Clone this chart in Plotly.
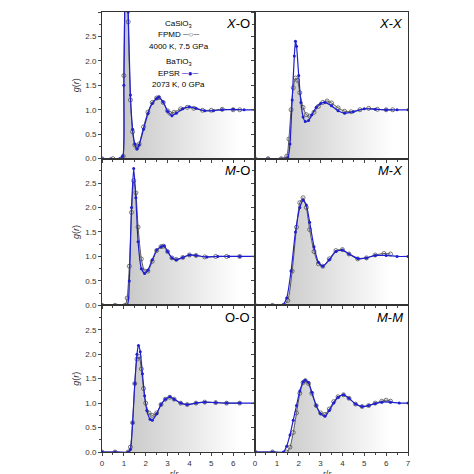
import plotly.graph_objects as go
from plotly.subplots import make_subplots

# (r, g) pairs, per panel: FPMD (grey) and EPSR (blue)
xo_r_f = [0, 0.5, 0.9, 0.97, 1.0, 1.05, 1.1, 1.2, 1.3, 1.4, 1.5, 1.6, 1.7, 1.9, 2.1, 2.3, 2.5, 2.6, 2.8, 3.0, 3.1, 3.3, 3.6, 3.9, 4.2, 4.6, 5.0, 5.5, 6.0, 6.3]
xo_g_f = [0, 0, 0, 0.05, 1.7, 3.6, 4.6, 2.8, 1.2, 0.55, 0.28, 0.22, 0.3, 0.65, 0.95, 1.15, 1.24, 1.25, 1.15, 0.98, 0.93, 0.95, 1.02, 1.05, 1.03, 0.99, 0.99, 1.01, 1.0, 1.0]
xo_r_e = [0, 0.4, 0.8, 0.95, 1.0, 1.05, 1.1, 1.2, 1.3, 1.4, 1.5, 1.6, 1.7, 1.9, 2.1, 2.3, 2.5, 2.6, 2.8, 3.0, 3.2, 3.4, 3.7, 4.0, 4.3, 4.7, 5.1, 5.5, 6.0, 6.5, 7.0]
xo_g_e = [0, 0, 0, 0.05, 1.5, 3.4, 4.8, 3.0, 1.3, 0.6, 0.3, 0.2, 0.28, 0.6, 0.92, 1.13, 1.23, 1.26, 1.16, 0.97, 0.88, 0.93, 1.02, 1.06, 1.03, 0.98, 0.98, 1.0, 1.01, 1.0, 1.0]

xx_r_f = [0, 0.6, 1.2, 1.45, 1.55, 1.65, 1.75, 1.85, 1.95, 2.05, 2.2, 2.35, 2.5, 2.7, 2.9, 3.1, 3.3, 3.5, 3.8, 4.1, 4.4, 4.8, 5.2, 5.6, 6.0, 6.3]
xx_g_f = [0, 0, 0, 0.05, 0.4, 1.0, 1.45, 1.65, 1.6, 1.35, 1.05, 0.9, 0.87, 0.95, 1.07, 1.15, 1.18, 1.14, 1.04, 0.97, 0.96, 1.0, 1.03, 1.01, 1.0, 1.0]
xx_r_e = [0, 0.6, 1.2, 1.5, 1.6, 1.7, 1.8, 1.85, 1.9, 2.0, 2.1, 2.2, 2.3, 2.45, 2.6, 2.8, 3.0, 3.2, 3.5, 3.8, 4.1, 4.5, 5.0, 5.5, 6.0, 6.5, 7.0]
xx_g_e = [0, 0, 0, 0.02, 0.3, 1.2, 2.1, 2.4, 2.3, 1.7, 1.15, 0.85, 0.76, 0.78, 0.9, 1.05, 1.13, 1.15, 1.08, 0.98, 0.93, 0.96, 1.02, 1.01, 1.0, 1.0, 1.0]

mo_r_f = [0, 0.6, 1.05, 1.15, 1.25, 1.35, 1.45, 1.55, 1.65, 1.8, 1.95, 2.1, 2.3, 2.5, 2.7, 2.8, 3.0, 3.2, 3.4, 3.7, 4.0, 4.3, 4.7, 5.2, 5.7, 6.3]
mo_g_f = [0, 0, 0, 0.15, 0.8, 1.9, 2.55, 2.3, 1.6, 0.95, 0.7, 0.7, 0.9, 1.12, 1.2, 1.21, 1.1, 0.97, 0.94, 0.98, 1.03, 1.02, 0.99, 1.0, 1.0, 1.0]
mo_r_e = [0, 0.6, 1.15, 1.25, 1.35, 1.45, 1.55, 1.65, 1.8, 1.95, 2.1, 2.3, 2.5, 2.7, 2.85, 3.0, 3.2, 3.4, 3.7, 4.0, 4.3, 4.8, 5.3, 5.8, 6.3, 7.0]
mo_g_e = [0, 0, 0, 0.5, 2.0, 2.8, 2.2, 1.3, 0.75, 0.65, 0.72, 0.93, 1.13, 1.2, 1.22, 1.1, 0.97, 0.93, 0.98, 1.03, 1.02, 0.99, 1.0, 1.0, 1.0, 1.0]

mx_r_f = [0, 0.8, 1.3, 1.5, 1.7, 1.9, 2.05, 2.2, 2.35, 2.5, 2.7, 2.9, 3.1, 3.4, 3.7, 4.0, 4.3, 4.7, 5.1, 5.5, 5.9, 6.2]
mx_g_f = [0, 0, 0, 0.1, 0.7, 1.6, 2.1, 2.2, 2.0, 1.55, 1.1, 0.85, 0.8, 0.95, 1.12, 1.14, 1.05, 0.95, 0.97, 1.03, 1.06, 1.05]
mx_r_e = [0, 0.8, 1.25, 1.45, 1.65, 1.85, 2.05, 2.2, 2.35, 2.5, 2.7, 2.9, 3.1, 3.4, 3.7, 4.0, 4.3, 4.7, 5.1, 5.5, 6.0, 6.5, 7.0]
mx_g_e = [0, 0, 0, 0.15, 0.7, 1.5, 2.0, 2.15, 2.05, 1.7, 1.2, 0.88, 0.8, 0.93, 1.1, 1.13, 1.05, 0.96, 0.97, 1.02, 1.02, 1.0, 1.0]

oo_r_f = [0, 0.6, 1.2, 1.3, 1.4, 1.5, 1.6, 1.7, 1.8, 1.9, 2.0, 2.15, 2.3, 2.5, 2.7, 2.9, 3.1, 3.3, 3.6, 3.9, 4.3, 4.7, 5.2, 5.7, 6.3]
oo_g_f = [0, 0, 0, 0.1, 0.6, 1.4, 1.9, 1.95, 1.7, 1.3, 1.0, 0.8, 0.75, 0.8, 0.97, 1.08, 1.12, 1.08, 1.0, 0.97, 1.0, 1.02, 1.01, 1.0, 1.0]
oo_r_e = [0, 0.6, 1.2, 1.3, 1.4, 1.5, 1.6, 1.67, 1.75, 1.85, 1.95, 2.05, 2.2, 2.3, 2.5, 2.7, 2.9, 3.1, 3.3, 3.6, 3.9, 4.3, 4.7, 5.2, 5.7, 6.3, 7.0]
oo_g_e = [0, 0, 0, 0.05, 0.6, 1.4, 2.0, 2.18, 2.05, 1.6, 1.15, 0.85, 0.67, 0.65, 0.78, 0.97, 1.08, 1.13, 1.08, 1.0, 0.97, 1.0, 1.02, 1.01, 1.0, 1.0, 1.0]

mm_r_f = [0, 0.8, 1.45, 1.6, 1.75, 1.9, 2.05, 2.2, 2.3, 2.45, 2.6, 2.8, 3.0, 3.2, 3.4, 3.6, 3.8, 4.05, 4.3, 4.6, 4.9, 5.2, 5.5, 5.8, 6.0, 6.2]
mm_g_f = [0, 0, 0, 0.1, 0.4, 0.8, 1.2, 1.42, 1.46, 1.4, 1.2, 0.95, 0.8, 0.77, 0.88, 1.03, 1.13, 1.17, 1.1, 0.98, 0.93, 0.95, 1.0, 1.04, 1.06, 1.04]
mm_r_e = [0, 0.8, 1.3, 1.45, 1.6, 1.75, 1.9, 2.05, 2.2, 2.3, 2.45, 2.6, 2.8, 3.0, 3.2, 3.4, 3.6, 3.8, 4.05, 4.3, 4.6, 4.9, 5.2, 5.5, 5.8, 6.2, 6.6, 7.0]
mm_g_e = [0, 0, 0, 0.12, 0.35, 0.65, 0.95, 1.25, 1.43, 1.47, 1.42, 1.22, 0.95, 0.78, 0.73, 0.85, 1.0, 1.12, 1.17, 1.1, 0.98, 0.93, 0.95, 0.99, 1.02, 1.02, 1.0, 1.0]

panels = [
    (1, 1, "<i>X</i>-O", xo_r_f, xo_g_f, xo_r_e, xo_g_e),
    (1, 2, "<i>X</i>-<i>X</i>", xx_r_f, xx_g_f, xx_r_e, xx_g_e),
    (2, 1, "<i>M</i>-O", mo_r_f, mo_g_f, mo_r_e, mo_g_e),
    (2, 2, "<i>M</i>-<i>X</i>", mx_r_f, mx_g_f, mx_r_e, mx_g_e),
    (3, 1, "O-O", oo_r_f, oo_g_f, oo_r_e, oo_g_e),
    (3, 2, "<i>M</i>-<i>M</i>", mm_r_f, mm_g_f, mm_r_e, mm_g_e),
]

fig = make_subplots(rows=3, cols=2, horizontal_spacing=0, vertical_spacing=0)

for row, col, label, rf, gf, re_, ge in panels:
    fig.add_trace(go.Scatter(
        x=rf, y=gf, mode="lines+markers", line=dict(color="#555", width=1, shape="spline", smoothing=0.6),
        marker=dict(symbol="circle-open", size=4, color="#555", line=dict(width=0.8)),
        fill="tozeroy",
        fillgradient=dict(type="horizontal", colorscale=[[0, "#bdbdbd"], [1, "#ffffff"]]),
        showlegend=False), row=row, col=col)
    fig.add_trace(go.Scatter(
        x=re_, y=ge, mode="lines+markers", line=dict(color="#1f1fd0", width=1.2, shape="spline", smoothing=0.6),
        marker=dict(size=3, color="#1f1fd0"), showlegend=False), row=row, col=col)
    fig.add_annotation(text=label, x=6.85, y=2.95, xanchor="right", yanchor="top",
                       showarrow=False, font=dict(size=13, color="black"), row=row, col=col)

    ytv = [0, 0.5, 1.0, 1.5, 2.0, 2.5, 3.0] if row == 1 else [0, 0.5, 1.0, 1.5, 2.0, 2.5]
    xtv = list(range(7)) if col == 1 else list(range(8))
    fig.update_xaxes(range=[0, 7], tickvals=xtv, showticklabels=(row == 3),
                     ticks="outside", ticklen=3, minor=dict(ticks="outside", ticklen=2, dtick=0.5),
                     showline=True, mirror=True, linecolor="#333", linewidth=1, showgrid=False,
                     zeroline=False, row=row, col=col)
    fig.update_yaxes(range=[0, 3], tickvals=ytv, ticktext=[f"{v:.1f}" for v in ytv],
                     showticklabels=(col == 1), ticks="outside", ticklen=3,
                     minor=dict(ticks="outside", ticklen=2, dtick=0.25),
                     showline=True, mirror=True, linecolor="#333", linewidth=1, showgrid=False,
                     zeroline=False, row=row, col=col)
    if col == 1:
        fig.update_yaxes(title=dict(text="<i>g</i>(<i>r</i>)", font=dict(size=9), standoff=4), row=row, col=col)
    if row == 3:
        fig.update_xaxes(title=dict(text="<i>r</i>/<i>r</i><sub><i>XO</i></sub>", font=dict(size=9), standoff=4),
                         row=row, col=col)

# legend text in the X-O panel
legend_lines = [
    (2.75, "CaSiO<sub>3</sub>"),
    (2.53, "FPMD <span style='color:#555'>─○─</span>"),
    (2.3, "4000 K, 7.5 GPa"),
    (1.97, "BaTiO<sub>3</sub>"),
    (1.75, "EPSR <span style='color:#1f1fd0'>─●─</span>"),
    (1.52, "2073 K, 0 GPa"),
]
for yv, txt in legend_lines:
    fig.add_annotation(text=txt, x=3.5, y=yv, showarrow=False, font=dict(size=8, color="black"), row=1, col=1)

fig.update_layout(width=474, height=474, margin=dict(l=94, r=74, t=4, b=30),
                  plot_bgcolor="white", paper_bgcolor="white",
                  font=dict(family="Liberation Sans, Arial", size=8, color="#333"))

fig.write_html("out.html")
